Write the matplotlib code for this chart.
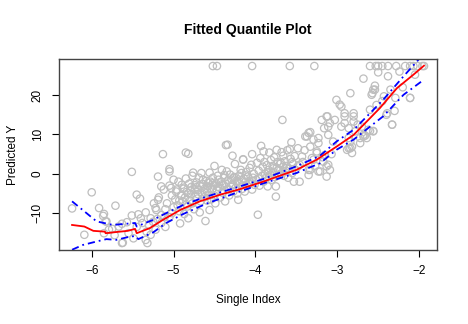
import numpy as np
import matplotlib
matplotlib.use("Agg")
import matplotlib.pyplot as plt

plt.rcParams['font.family'] = ['Liberation Sans', 'DejaVu Sans']

# fitted quantile curves (single index -> predicted Y)
curve_x = [-6.24, -6.09, -5.98, -5.84, -5.83, -5.70, -5.56, -5.47, -5.45, -5.29,
           -5.13, -4.92, -4.68, -4.43, -4.19, -3.90, -3.50, -3.25, -3.01, -2.80,
           -2.64, -2.48, -2.27, -2.07, -1.94]
median = [-13.0, -13.4, -14.5, -14.7, -15.1, -14.8, -14.5, -14.0, -15.1, -13.8,
          -11.7, -9.2, -7.0, -5.3, -3.9, -1.95, 1.0, 3.6, 6.9, 9.9,
          13.3, 16.7, 21.8, 25.2, 27.5]

upper_x = [-6.24, -6.11, -5.94, -5.74, -5.58, -5.47, -5.45, -5.25, -5.09, -4.88,
           -4.60, -4.19, -3.90, -3.50, -3.21, -3.01, -2.80, -2.60, -2.44, -2.19, -2.00]
upper = [-7.0, -9.2, -12.1, -13.0, -12.7, -12.5, -13.4, -11.7, -10.0, -7.9,
         -5.8, -3.2, -1.3, 1.9, 4.6, 8.2, 11.2, 15.4, 18.8, 24.8, 29.2]

lower_x = [-6.24, -6.11, -5.94, -5.82, -5.70, -5.56, -5.47, -5.43, -5.25, -5.09,
           -4.88, -4.60, -4.19, -3.90, -3.50, -3.21, -3.01, -2.80, -2.60, -2.44,
           -2.19, -1.97]
lower = [-19.3, -18.1, -17.2, -16.6, -16.8, -16.1, -15.8, -16.6, -14.9, -12.5,
         -10.2, -7.6, -4.5, -2.4, 0.2, 2.7, 6.1, 8.7, 12.0, 14.6,
         20.1, 23.5]

# observed points
pts_x = [
    -6.24, -6.00, -6.09, -5.91, -5.85, -5.83, -5.71, -5.79, -5.85, -5.63,
    -5.63, -5.57, -5.67, -5.55, -5.51, -5.51, -5.62, -5.86, -5.82, -5.75, -5.72,
    -5.45, -5.41, -5.43, -5.40, -5.34, -5.28, -5.24, -5.22, -5.49, -5.34,
    -5.32, -5.22, -5.19, -5.13, -5.05, -5.05, -5.33, -5.45, -5.38, -5.30,
    -5.25, -5.20, -5.15, -5.10, -5.18, -5.12, -5.08, -5.05, -5.02, -5.15,
    -5.10, -5.05, -5.28, -5.00, -5.02, -5.00, -5.11, -5.21, -5.19, -5.15, -5.03,
    -4.98, -4.97, -4.95, -4.94, -4.93, -4.92, -4.91, -4.90, -4.89, -4.88,
    -4.87, -4.86, -4.85, -4.85, -4.84, -4.83, -4.82, -4.82, -4.82, -4.81,
    -4.80, -4.79, -4.78, -4.77, -4.76, -4.75, -4.74, -4.73, -4.72, -4.71,
    -4.70, -4.69, -4.68, -4.68, -4.67, -4.66, -4.65, -4.64, -4.63, -4.62,
    -4.61, -4.60, -4.59, -4.58, -4.57, -4.56, -4.56, -4.55, -4.54, -4.53,
    -4.52, -4.51, -4.50, -4.50, -4.96, -4.93, -4.87, -4.79, -4.74, -4.70,
    -4.64, -4.59, -4.55, -4.52, -4.90, -4.84, -4.77, -4.72, -4.62, -4.58,
    -4.49, -4.48, -4.47, -4.46, -4.45, -4.44, -4.43, -4.42, -4.41, -4.40,
    -4.39, -4.38, -4.37, -4.36, -4.36, -4.35, -4.34, -4.33, -4.32, -4.31,
    -4.30, -4.29, -4.28, -4.28, -4.27, -4.26, -4.25, -4.24, -4.23, -4.22,
    -4.21, -4.20, -4.19, -4.18, -4.17, -4.16, -4.15, -4.14, -4.13, -4.12,
    -4.11, -4.10, -4.09, -4.07, -4.06, -4.05, -4.04, -4.03, -4.02, -4.01,
    -4.46, -4.41, -4.38, -4.33, -4.27, -4.22, -4.17, -4.12, -4.08, -4.04,
    -4.34, -4.15, -4.04,
    -3.99, -3.98, -3.97, -3.96, -3.95, -3.94, -3.93, -3.92, -3.91, -3.90,
    -3.89, -3.88, -3.87, -3.86, -3.85, -3.84, -3.83, -3.82, -3.81, -3.80,
    -3.79, -3.78, -3.77, -3.76, -3.75, -3.75, -3.74, -3.73, -3.72, -3.71,
    -3.70, -3.69, -3.68, -3.67, -3.66, -3.66, -3.65, -3.64, -3.63, -3.62,
    -3.61, -3.60, -3.59, -3.58, -3.57, -3.56, -3.55, -3.54, -3.53, -3.52,
    -3.51, -3.90, -3.74, -3.96, -3.85, -3.78, -3.69, -3.62, -3.55,
    -3.48, -3.46, -3.46, -3.43, -3.39, -3.37, -3.35, -3.35, -3.35, -3.33,
    -3.33, -3.33, -3.29, -3.29, -3.25, -3.25, -3.23, -3.23, -3.23, -3.21,
    -3.19, -3.17, -3.16, -3.13, -3.13, -3.13, -3.12, -3.11, -3.11, -3.11,
    -3.09, -3.09, -3.05, -3.03, -3.01, -2.97, -3.48, -3.42, -3.31, -3.27,
    -3.18, -3.07, -3.40, -3.15,
    -2.95, -2.95, -2.91, -2.91, -2.91, -2.88, -2.86, -2.86, -2.86, -2.84,
    -2.84, -2.84, -2.82, -2.82, -2.80, -2.80, -2.80, -2.78, -2.72, -2.72,
    -2.70, -2.68, -2.68, -2.68, -2.66, -2.64, -2.62, -2.60, -2.60, -2.58,
    -2.57, -2.56, -2.56, -2.56, -2.54, -2.54, -2.50, -2.43, -2.40, -2.39,
    -2.38, -2.35, -2.33, -2.33, -2.29, -2.24, -2.11, -2.11, -2.05, -2.75,
    -2.52, -2.45, -2.30, -2.20,
    -4.52, -4.47, -4.04, -3.58, -3.28, -2.60, -2.53, -2.50, -2.45, -2.38,
    -2.28, -2.17, -2.11, -2.07, -2.02, -1.96, -1.94,
]
pts_y = [
    -8.8, -4.7, -15.5, -8.7, -10.2, -12.1, -8.1, -14.2, -15.1, -17.6,
    -12.7, -12.3, -13.4, -15.1, -10.6, 0.5, -17.5, -10.7, -12.1, -14.0, -15.6,
    -5.3, -6.3, -10.3, -11.3, -9.8, -11.3, -7.5, -8.7, -16.4, -16.8,
    -17.6, -14.2, -0.7, 5.0, 1.2, 0.6, -14.7, -13.5, -12.5, -13.0,
    -12.2, -11.5, -10.5, -9.0, -6.0, -4.0, -7.5, -3.0, -5.5, -12.5,
    -13.5, -11.0, -15.5, -8.5, -10.0, -1.5, -11.0, -9.2, -6.6, -3.2, -3.6,
    -6.5, -4.5, -8.0, -2.0, -9.5, -12.6, -5.5, -2.8, -7.0, -3.8,
    -10.2, -6.0, 5.4, -1.2, -4.6, -8.3, 5.1, -4.9, -11.3, -2.5,
    -6.8, -5.2, -3.3, -7.5, 0.3, -9.0, -4.0, -5.8, -2.2, -6.3,
    -4.1, -1.0, -9.8, -3.0, -7.0, 0.2, -5.0, -2.6, -6.0, -3.8,
    -12.0, -1.8, -4.5, -3.2, -5.5, 0.3, -9.2, -2.0, -6.5, -4.0,
    -1.0, -3.0, 2.0, -5.5, -4.0, -6.8, -3.5, -4.2, -2.9, -5.2,
    -1.5, -6.8, -3.6, -2.4, -5.6, -7.8, -0.5, -3.4, -4.7, -2.3,
    -7.5, -2.5, -4.2, -0.5, -1.5, -3.5, -6.0, -2.0, 1.0, -4.8,
    -3.0, -1.0, -7.0, 7.3, -2.5, 0.6, -4.0, -1.5, -5.5, -0.2,
    -3.2, -1.5, 4.6, -2.8, -4.5, -0.8, 2.5, -3.5, -1.8, -5.0,
    -6.6, -0.5, -2.5, 1.0, 0.2, -3.8, 3.7, -1.2, -4.5, -2.0,
    0.5, -3.0, -0.7, 1.5, -2.2, 2.3, -4.0, -1.0, 0.0, -2.8,
    -3.3, -2.7, -0.3, -3.9, -1.1, -2.0, -1.6, -0.4, -2.5, -1.8,
    7.4, 3.6, 5.0,
    -1.5, 2.8, -10.4, 0.8, -3.0, 4.0, 7.1, -0.5, 1.8, -2.0,
    3.0, 0.0, -1.0, 2.2, -3.2, 1.0, 5.4, -0.2, 3.5, -1.5,
    2.0, 0.5, 4.2, -0.8, -3.2, -5.8, 1.5, 3.0, 1.0, -0.3,
    2.5, 0.0, 5.5, 13.7, 1.8, 4.6, -0.5, 3.2, 0.8, 2.0,
    6.0, -1.0, 1.2, 6.3, 3.8, 8.0, 0.2, 2.5, -2.0, 4.5,
    1.0, 5.7, 6.1, -1.2, 0.3, 1.4, 2.8, 1.5, 3.0,
    6.5, 2.3, -2.0, 4.4, 9.5, 9.5, 10.4, 1.0, -0.3, 10.6,
    6.9, 1.0, 8.7, 3.6, 5.3, 5.7, 7.8, 9.1, 0.6, 0.6,
    13.7, 3.1, 11.6, 14.6, 1.9, -0.7, 14.6, 12.0, 9.9, 2.3,
    12.9, 1.0, 8.2, 13.7, 18.8, 17.6, 1.9, 3.0, 4.0, 2.0,
    4.2, 5.0, 6.0, 4.8,
    17.1, 12.0, 15.4, 14.6, 12.9, 6.1, 11.6, 9.1, 6.5, 20.5,
    8.2, 6.5, 6.9, 5.3, 15.4, 14.6, 13.3, 10.8, 7.8, 9.1,
    12.0, 24.2, 9.5, 9.9, 9.7, 9.1, 11.2, 16.3, 10.9, 20.1,
    20.5, 21.4, 10.8, 10.9, 22.4, 21.4, 25.8, 19.7, 15.0, 15.4,
    24.8, 21.4, 12.5, 12.5, 19.3, 26.0, 19.3, 19.3, 25.2, 12.5,
    17.5, 18.5, 16.0, 22.0,
    27.4, 27.4, 27.4, 27.4, 27.4, 27.4, 27.4, 27.4, 27.4, 27.4,
    27.4, 27.4, 27.4, 27.4, 27.4, 27.4, 27.4,
]

x_ticks = [-6, -5, -4, -3, -2]
y_ticks = [-10, 0, 10, 20]

fig = plt.figure(figsize=(4.68, 3.24), dpi=100)
ax = fig.add_axes([0.126, 0.228, 0.808, 0.590])

ax.scatter(pts_x, pts_y, s=28, facecolors='none', edgecolors='#bebebe', linewidths=0.9)
ax.plot(upper_x, upper, color='blue', lw=1.3, dashes=(4, 2.2, 1, 2.2))
ax.plot(lower_x, lower, color='blue', lw=1.3, dashes=(4, 2.2, 1, 2.2))
ax.plot(curve_x, median, color='red', lw=1.3)

ax.set_xlim(-6.40, -1.78)
ax.set_ylim(-19.4, 29.2)
ax.set_xticks(x_ticks)
ax.set_yticks(y_ticks)
ax.set_xticklabels(['\u2212%d' % abs(v) for v in x_ticks], fontsize=8.5)
ax.set_yticklabels([('\u2212%d' % abs(v)) if v < 0 else str(v) for v in y_ticks],
                   fontsize=8.5, rotation=90, va='center')
ax.tick_params(direction='out', length=5, width=0.8, pad=6)
for s in ax.spines.values():
    s.set_color('#444444')
    s.set_linewidth(1.0)

ax.set_xlabel('Single Index', fontsize=8.5, labelpad=12)
ax.set_ylabel('Predicted Y', fontsize=8.5, labelpad=9)
ax.set_title('Fitted Quantile Plot', fontsize=10, fontweight='bold', pad=18)

fig.savefig('out.png', dpi=100)
